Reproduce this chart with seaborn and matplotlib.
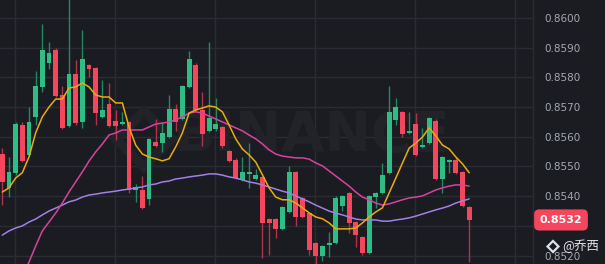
import numpy as np
import pandas as pd
import matplotlib
matplotlib.use("Agg")
import matplotlib.pyplot as plt
import seaborn as sns
from matplotlib.patches import RegularPolygon

# ---- data ----
opens = [0.85543, 0.85428, 0.85479, 0.85640, 0.85539, 0.85667, 0.85768, 0.85849, 0.85892, 0.85741,
         0.85636, 0.85811, 0.85650, 0.85842, 0.85832, 0.85667, 0.85710, 0.85653, 0.85643, 0.85650,
         0.85421, 0.85421, 0.85391, 0.85582, 0.85579, 0.85599, 0.85694, 0.85660, 0.85768, 0.85842,
         0.85690, 0.85620, 0.85626, 0.85633, 0.85552, 0.85522, 0.85455, 0.85475, 0.85458, 0.85465,
         0.85324, 0.85324, 0.85290, 0.85347, 0.85482, 0.85394, 0.85344, 0.85243, 0.85199, 0.85236,
         0.85243, 0.85367, 0.85411, 0.85313, 0.85263, 0.85209, 0.85397, 0.85411, 0.85479, 0.85657,
         0.85684, 0.85613, 0.85643, 0.85566, 0.85579, 0.85653, 0.85458, 0.85515, 0.85522, 0.85482,
         0.85364]
highs = [0.85562, 0.85532, 0.85650, 0.85650, 0.85700, 0.85822, 0.85980, 0.85919, 0.85899, 0.85771,
         0.86068, 0.85859, 0.85960, 0.85845, 0.85835, 0.85791, 0.85781, 0.85690, 0.85684, 0.85653,
         0.85441, 0.85468, 0.85596, 0.85660, 0.85650, 0.85741, 0.85710, 0.85774, 0.85889, 0.85849,
         0.85751, 0.85919, 0.85731, 0.85636, 0.85556, 0.85529, 0.85532, 0.85579, 0.85492, 0.85468,
         0.85327, 0.85327, 0.85367, 0.85502, 0.85485, 0.85397, 0.85347, 0.85246, 0.85236, 0.85280,
         0.85401, 0.85404, 0.85414, 0.85317, 0.85266, 0.85404, 0.85414, 0.85512, 0.85771, 0.85731,
         0.85687, 0.85684, 0.85680, 0.85630, 0.85667, 0.85660, 0.85536, 0.85525, 0.85532, 0.85485,
         0.85367]
lows = [0.85371, 0.85397, 0.85472, 0.85515, 0.85536, 0.85640, 0.85751, 0.85828, 0.85734, 0.85626,
        0.85633, 0.85640, 0.85630, 0.85801, 0.85640, 0.85663, 0.85633, 0.85589, 0.85640, 0.85411,
        0.85381, 0.85357, 0.85371, 0.85566, 0.85549, 0.85596, 0.85620, 0.85657, 0.85764, 0.85687,
        0.85569, 0.85616, 0.85620, 0.85562, 0.85515, 0.85458, 0.85451, 0.85428, 0.85455, 0.85192,
        0.85202, 0.85259, 0.85287, 0.85344, 0.85300, 0.85327, 0.85202, 0.85172, 0.85182, 0.85196,
        0.85239, 0.85350, 0.85276, 0.85229, 0.85202, 0.85206, 0.85361, 0.85408, 0.85475, 0.85640,
        0.85599, 0.85609, 0.85536, 0.85562, 0.85576, 0.85455, 0.85411, 0.85479, 0.85475, 0.85364,
        0.85179]
closes = [0.85448, 0.85482, 0.85644, 0.85519, 0.85650, 0.85771, 0.85892, 0.85882, 0.85737, 0.85630,
          0.85811, 0.85646, 0.85862, 0.85828, 0.85680, 0.85690, 0.85636, 0.85636, 0.85650, 0.85421,
          0.85431, 0.85361, 0.85593, 0.85569, 0.85613, 0.85694, 0.85650, 0.85771, 0.85862, 0.85690,
          0.85609, 0.85663, 0.85643, 0.85569, 0.85519, 0.85461, 0.85482, 0.85482, 0.85472, 0.85310,
          0.85310, 0.85290, 0.85364, 0.85482, 0.85330, 0.85330, 0.85219, 0.85199, 0.85233, 0.85243,
          0.85394, 0.85401, 0.85310, 0.85269, 0.85209, 0.85401, 0.85411, 0.85472, 0.85684, 0.85700,
          0.85609, 0.85620, 0.85539, 0.85572, 0.85663, 0.85458, 0.85532, 0.85522, 0.85479, 0.85367,
          0.85320]
ma7 = [0.85414, 0.85428, 0.85461, 0.85479, 0.85532, 0.85613, 0.85667, 0.85700, 0.85727, 0.85727,
       0.85764, 0.85768, 0.85781, 0.85768, 0.85741, 0.85734, 0.85734, 0.85714, 0.85714, 0.85633,
       0.85572, 0.85542, 0.85532, 0.85526, 0.85519, 0.85526, 0.85566, 0.85613, 0.85680, 0.85690,
       0.85697, 0.85704, 0.85700, 0.85684, 0.85640, 0.85593, 0.85559, 0.85539, 0.85515, 0.85472,
       0.85428, 0.85397, 0.85388, 0.85388, 0.85377, 0.85361, 0.85344, 0.85330, 0.85324, 0.85310,
       0.85290, 0.85290, 0.85290, 0.85293, 0.85310, 0.85330, 0.85347, 0.85361, 0.85411, 0.85461,
       0.85512, 0.85562, 0.85579, 0.85599, 0.85630, 0.85603, 0.85572, 0.85559, 0.85532, 0.85509,
       0.85479]
ma25 = [0.84976, 0.85027, 0.85077, 0.85128, 0.85178, 0.85232, 0.85283, 0.85313, 0.85343, 0.85377,
        0.85414, 0.85448, 0.85482, 0.85518, 0.85549, 0.85576, 0.85606, 0.85613, 0.85623, 0.85623,
        0.85623, 0.85623, 0.85633, 0.85643, 0.85646, 0.85650, 0.85657, 0.85667, 0.85680, 0.85684,
        0.85680, 0.85670, 0.85660, 0.85650, 0.85640, 0.85630, 0.85620, 0.85606, 0.85593, 0.85576,
        0.85556, 0.85542, 0.85535, 0.85532, 0.85529, 0.85529, 0.85525, 0.85512, 0.85502, 0.85485,
        0.85468, 0.85451, 0.85434, 0.85414, 0.85397, 0.85388, 0.85377, 0.85370, 0.85374, 0.85381,
        0.85388, 0.85394, 0.85397, 0.85401, 0.85411, 0.85421, 0.85428, 0.85434, 0.85438, 0.85438,
        0.85434]
ma99 = [0.85269, 0.85283, 0.85293, 0.85300, 0.85313, 0.85323, 0.85337, 0.85350, 0.85360, 0.85370,
        0.85381, 0.85387, 0.85397, 0.85404, 0.85407, 0.85411, 0.85414, 0.85417, 0.85421, 0.85424,
        0.85428, 0.85431, 0.85438, 0.85441, 0.85448, 0.85451, 0.85458, 0.85461, 0.85465, 0.85468,
        0.85471, 0.85475, 0.85475, 0.85471, 0.85465, 0.85461, 0.85455, 0.85448, 0.85444, 0.85438,
        0.85431, 0.85424, 0.85417, 0.85411, 0.85401, 0.85391, 0.85381, 0.85370, 0.85360, 0.85350,
        0.85343, 0.85337, 0.85330, 0.85323, 0.85320, 0.85320, 0.85320, 0.85316, 0.85316, 0.85320,
        0.85323, 0.85327, 0.85333, 0.85340, 0.85347, 0.85354, 0.85360, 0.85367, 0.85377, 0.85384,
        0.85391]
price_ticks = [0.8520, 0.8530, 0.8540, 0.8550, 0.8560, 0.8570, 0.8580, 0.8590, 0.8600]
last_price_label = "0.8532"
watermark_user = "@乔西"
watermark_brand = "BINANCE"

# ---- styling ----
BG = "#1b1c21"
GRID = "#2a2c33"
WM = "#212329"
UP = "#2ebd85"
DOWN = "#f6465d"
UP_WICK = "#22895f"
DOWN_WICK = "#b03449"

sns.set_theme(style="dark")
plt.rcParams["font.family"] = ["DejaVu Sans"]

fig = plt.figure(figsize=(6.05, 2.64), dpi=100, facecolor=BG)
ax = fig.add_axes([0, 0, 533 / 605, 1])
ax.set_facecolor(BG)

n = len(closes)
df = pd.DataFrame({
    "idx": np.arange(n), "open": opens, "high": highs, "low": lows, "close": closes,
    "ma7": ma7, "ma25": ma25, "ma99": ma99,
})
up = df["close"] >= df["open"]

# grid
for p in price_ticks:
    ax.axhline(p, color=GRID, lw=1, zorder=0)
for gx in [1.9, 16.9, 31.9, 46.9, 61.9, 76.9]:
    ax.axvline(gx, color=GRID, lw=1, zorder=0)

# watermark (brand), drawn beneath the candles
ax.text(0.585, 0.485, watermark_brand, transform=ax.transAxes, fontsize=40,
        fontweight="bold", color=WM, ha="center", va="center", zorder=1)
ax.add_patch(RegularPolygon((1.44, 1.25), 4, radius=0.28, orientation=0,
                            fill=False, ec=WM, lw=7,
                            transform=fig.dpi_scale_trans, zorder=1))

# candles
ax.vlines(df["idx"], df["low"], df["high"],
          colors=np.where(up, UP_WICK, DOWN_WICK), lw=1, zorder=2)
bottoms = np.minimum(df["open"], df["close"])
heights = np.maximum(np.abs(df["close"] - df["open"]), 0.00004)
ax.bar(df["idx"], heights, bottom=bottoms, width=0.74,
       color=np.where(up, UP, DOWN), linewidth=0, zorder=3)

# moving averages
sns.lineplot(data=df, x="idx", y="ma99", color="#a27fe8", lw=1.1, ax=ax, legend=False, zorder=4)
sns.lineplot(data=df, x="idx", y="ma25", color="#d8429f", lw=1.1, ax=ax, legend=False, zorder=4)
sns.lineplot(data=df, x="idx", y="ma7", color="#e9ab10", lw=1.1, ax=ax, legend=False, zorder=4)

ax.set_xlim(-0.345, 79.57)
ax.set_ylim(0.851717, 0.860606)
ax.set_xlabel("")
ax.set_ylabel("")
ax.set_xticks([])
ax.yaxis.tick_right()
ax.set_yticks(price_ticks)
# the 0.8530 label sits hidden behind the last-price tag in the reference
ax.set_yticklabels(["" if abs(p - 0.8530) < 1e-9 else f"{p:.4f}" for p in price_ticks])
ax.tick_params(axis="y", length=0, pad=8.5, labelsize=7.5, labelcolor="#a3a8b0")
ax.grid(False)
for s in ["left", "top", "bottom"]:
    ax.spines[s].set_visible(False)
ax.spines["right"].set_color(GRID)
ax.spines["right"].set_linewidth(1)

# last price tag
ax.annotate(last_price_label, xy=(1.0, closes[-1]), xycoords=("axes fraction", "data"),
            xytext=(28, 0), textcoords="offset pixels", ha="center", va="center",
            fontsize=8, fontweight="bold", color="white", annotation_clip=False, zorder=10,
            bbox=dict(boxstyle="round,pad=0.5,rounding_size=0.45", fc=DOWN, ec="none"))

# user watermark
fig.patches.append(RegularPolygon((5.53, 0.175), 4, radius=0.055, orientation=0,
                                  fill=False, ec="#dfe2e6", lw=1.6,
                                  transform=fig.dpi_scale_trans, figure=fig, zorder=11))
fig.text(562 / 605, 1 - 246 / 264, watermark_user, fontsize=9, color="#e2e5e9",
         family=["Noto Sans CJK SC", "DejaVu Sans"], ha="left", va="center", zorder=11)

fig.savefig("out.png", dpi=100, facecolor=BG)
